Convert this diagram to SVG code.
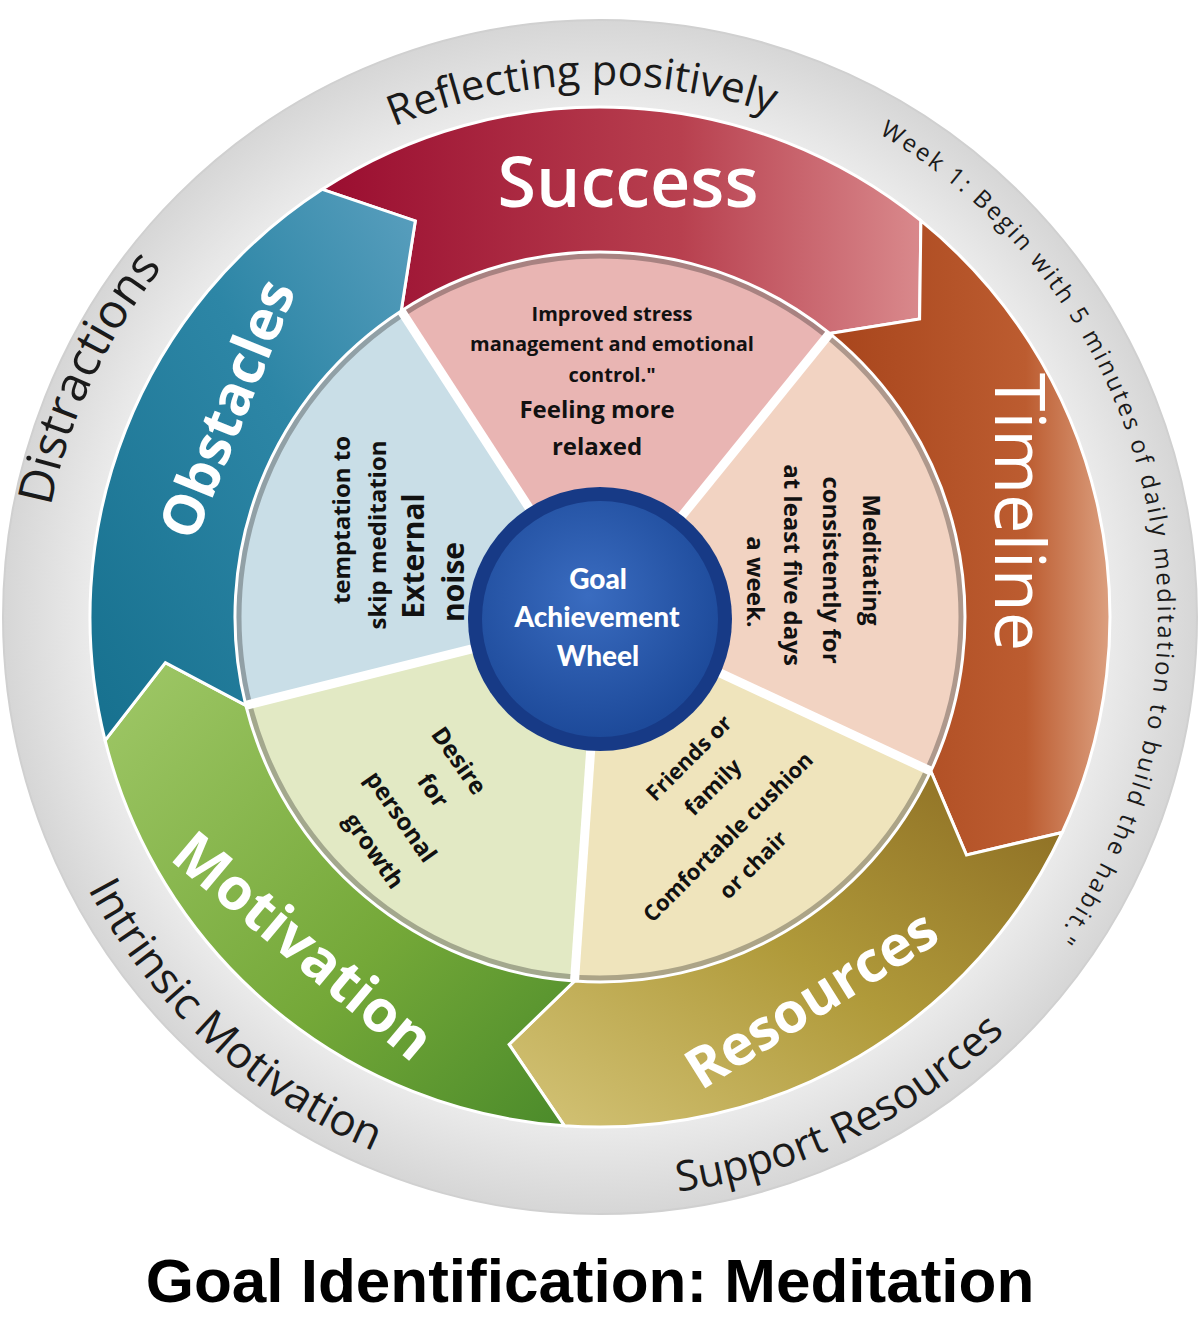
<svg xmlns="http://www.w3.org/2000/svg" width="1200" height="1330" viewBox="0 0 1200 1330">
<defs>
<style>
.ring{font-family:"Open Sans","Liberation Sans",sans-serif;fill:#1a1a1a}
.seg{font-family:"Open Sans","Liberation Sans",sans-serif;font-weight:700;fill:#fff}
.in{font-family:"Open Sans","Liberation Sans",sans-serif;font-weight:700;fill:#111;text-anchor:middle}
.ctr{font-family:"Lato","Liberation Sans",sans-serif;font-weight:900;fill:#fff;text-anchor:middle;font-size:28px}
</style>
<radialGradient id="gOuter" cx="0.5" cy="0.5" r="0.5"><stop offset="0.8" stop-color="#f2f2f2"/><stop offset="1" stop-color="#d6d6d6"/></radialGradient>
<linearGradient id="gS" x1="0" y1="0" x2="1" y2="0"><stop offset="0" stop-color="#9a0d30"/><stop offset="0.6" stop-color="#b8404f"/><stop offset="1" stop-color="#d9898c"/></linearGradient>
<linearGradient id="gT" x1="0" y1="0" x2="1" y2="0"><stop offset="0" stop-color="#a8451c"/><stop offset="0.7" stop-color="#bc5c30"/><stop offset="1" stop-color="#dca080"/></linearGradient>
<linearGradient id="gR" x1="0" y1="1" x2="1" y2="0"><stop offset="0" stop-color="#d4c478"/><stop offset="0.5" stop-color="#b09a3a"/><stop offset="1" stop-color="#8a6a22"/></linearGradient>
<linearGradient id="gM" x1="0" y1="0" x2="1" y2="1"><stop offset="0" stop-color="#a0c868"/><stop offset="0.6" stop-color="#74a838"/><stop offset="1" stop-color="#4a8a2a"/></linearGradient>
<linearGradient id="gO" x1="0" y1="1" x2="1" y2="0"><stop offset="0" stop-color="#16708e"/><stop offset="0.6" stop-color="#2d86a6"/><stop offset="1" stop-color="#5a9fbe"/></linearGradient>
<radialGradient id="gC" cx="0.45" cy="0.4" r="0.6"><stop offset="0" stop-color="#3a6cc0"/><stop offset="1" stop-color="#1d4a9a"/></radialGradient>
<path id="pTop" d="M 68 617 A 532 532 0 0 1 1132 617"/>
<path id="pWeek" d="M 879 133.8 A 558 558 0 0 1 1027.4 975.7"/>
<path id="pDist" d="M 42 666 A 560 560 0 0 1 279 158"/>
<path id="pIntr" d="M 28.8 717.7 A 580 580 0 0 0 549.4 1194.8"/>
<path id="pSupp" d="M 499.3 1188.2 A 580 580 0 0 0 1112.1 889.3"/>
</defs>
<rect width="1200" height="1330" fill="#fff"/>
<circle cx="600" cy="617" r="597" fill="url(#gOuter)" stroke="#d0d0d0" stroke-width="2"/>

<g id="inner-sectors">
<path d="M600 617 L401.2 310.9 A365 365 0 0 1 829.7 333.4 Z" fill="#e9b5b3"/>
<path d="M600 617 L829.7 333.4 A365 365 0 0 1 930.8 771.2 Z" fill="#f2d3c2"/>
<path d="M600 617 L930.8 771.2 A365 365 0 0 1 574.5 981.1 Z" fill="#efe4bc"/>
<path d="M600 617 L574.5 981.1 A365 365 0 0 1 245.8 705.3 Z" fill="#e2e9c4"/>
<path d="M600 617 L245.8 705.3 A365 365 0 0 1 401.2 310.9 Z" fill="#c9dee7"/>
<circle cx="600" cy="617" r="362" fill="none" stroke="#000" stroke-opacity="0.28" stroke-width="7"/>
</g>

<g id="connectors" stroke="#fff" stroke-width="9">
<line x1="600" y1="617" x2="401.2" y2="310.9"/>
<line x1="600" y1="617" x2="829.7" y2="333.4"/>
<line x1="600" y1="617" x2="930.8" y2="771.2"/>
<line x1="600" y1="617" x2="574.5" y2="981.1"/>
<line x1="600" y1="617" x2="245.8" y2="705.3"/>
</g>

<g id="success">
<path d="M322.3 189.3 A510 510 0 0 1 920.9 220.7 L919.6 319 L829.7 333.4 A365 365 0 0 0 401.2 310.9 L415.3 220.9 Z" fill="url(#gS)" stroke="#fff" stroke-width="3"/>
<text class="seg" x="628" y="207" text-anchor="middle" font-size="70" style="font-weight:600">Success</text>
<text class="in" font-size="20"><tspan x="612" y="321">Improved stress</tspan><tspan x="612" y="351">management and emotional</tspan><tspan x="612" y="382">control."</tspan></text>
<text class="in" font-size="24"><tspan x="597" y="418">Feeling more</tspan><tspan x="597" y="455">relaxed</tspan></text>
</g>

<g id="timeline">
<path d="M920.9 220.7 A510 510 0 0 1 1062.2 832.5 L966.5 855 L930.8 771.2 A365 365 0 0 0 829.7 333.4 L919.6 319 Z" fill="url(#gT)" stroke="#fff" stroke-width="3"/>
<text class="seg" transform="translate(1022 512) rotate(90)" text-anchor="middle" dominant-baseline="central" font-size="70" style="font-weight:400">Timeline</text>
<text class="in" font-size="24" transform="translate(872 560) rotate(90)" dominant-baseline="central">Meditating</text>
<text class="in" font-size="24" transform="translate(832 570) rotate(90)" dominant-baseline="central">consistently for</text>
<text class="in" font-size="24" transform="translate(793 565) rotate(90)" dominant-baseline="central">at least five days</text>
<text class="in" font-size="24" transform="translate(756 582) rotate(90)" dominant-baseline="central">a week.</text>
</g>

<g id="resources">
<path d="M1062.2 832.5 A510 510 0 0 1 564.4 1125.8 L509.1 1044.4 L574.5 981.1 A365 365 0 0 0 930.8 771.2 L966.5 855 Z" fill="url(#gR)" stroke="#fff" stroke-width="3"/>
<text class="seg" transform="translate(810 997) rotate(-32)" text-anchor="middle" dominant-baseline="central" font-size="56">Resources</text>
<text class="in" font-size="22" transform="translate(688 757) rotate(-45)" dominant-baseline="central">Friends or</text>
<text class="in" font-size="22" transform="translate(712 786) rotate(-45)" dominant-baseline="central">family</text>
<text class="in" font-size="22" transform="translate(727 836) rotate(-45)" dominant-baseline="central">Comfortable cushion</text>
<text class="in" font-size="22" transform="translate(752 864) rotate(-45)" dominant-baseline="central">or chair</text>
</g>

<g id="motivation">
<path d="M564.4 1125.8 A510 510 0 0 1 105.1 740.4 L165.4 662.7 L245.8 705.3 A365 365 0 0 0 574.5 981.1 L509.1 1044.4 Z" fill="url(#gM)" stroke="#fff" stroke-width="3"/>
<text class="seg" transform="translate(305 944) rotate(40)" text-anchor="middle" dominant-baseline="central" font-size="58">Motivation</text>
<text class="in" font-size="24" transform="translate(460 760) rotate(55)" dominant-baseline="central">Desire</text>
<text class="in" font-size="24" transform="translate(434 790) rotate(55)" dominant-baseline="central">for</text>
<text class="in" font-size="24" transform="translate(402 816) rotate(55)" dominant-baseline="central">personal</text>
<text class="in" font-size="24" transform="translate(375 850) rotate(55)" dominant-baseline="central">growth</text>
</g>

<g id="obstacles">
<path d="M105.1 740.4 A510 510 0 0 1 322.3 189.3 L415.3 220.9 L401.2 310.9 A365 365 0 0 0 245.8 705.3 L165.4 662.7 Z" fill="url(#gO)" stroke="#fff" stroke-width="3"/>
<text class="seg" transform="translate(225 408) rotate(-68)" text-anchor="middle" dominant-baseline="central" font-size="56">Obstacles</text>
<text class="in" font-size="24" transform="translate(340 520) rotate(-90)" dominant-baseline="central">temptation to</text>
<text class="in" font-size="24" transform="translate(376 535) rotate(-90)" dominant-baseline="central">skip meditation</text>
<text class="in" font-size="30" transform="translate(412 556) rotate(-90)" dominant-baseline="central">External</text>
<text class="in" font-size="30" transform="translate(452 582) rotate(-90)" dominant-baseline="central">noise</text>
</g>

<g id="ring-labels" class="ring">
<text font-size="42"><textPath href="#pTop" startOffset="48.9%" text-anchor="middle">Reflecting positively</textPath></text>
<text font-size="24"><textPath href="#pWeek" startOffset="0" textLength="925" lengthAdjust="spacing">Week 1: Begin with 5 minutes of daily meditation to build the habit."</textPath></text>
<text font-size="48"><textPath href="#pDist" startOffset="50%" text-anchor="middle">Distractions</textPath></text>
<text font-size="44"><textPath href="#pIntr" startOffset="50%" text-anchor="middle">Intrinsic Motivation</textPath></text>
<text font-size="42"><textPath href="#pSupp" startOffset="50%" text-anchor="middle">Support Resources</textPath></text>
</g>

<g id="center">
<circle cx="600" cy="619" r="132" fill="#173a86"/>
<circle cx="600" cy="619" r="118" fill="url(#gC)"/>
<text class="ctr"><tspan x="598" y="589">Goal</tspan><tspan x="597" y="627">Achievement</tspan><tspan x="598" y="666">Wheel</tspan></text>
</g>

<text id="title" x="590" y="1302" text-anchor="middle" font-family="Liberation Sans, Arial, sans-serif" font-weight="700" font-size="62" fill="#000">Goal Identification: Meditation</text>
</svg>
